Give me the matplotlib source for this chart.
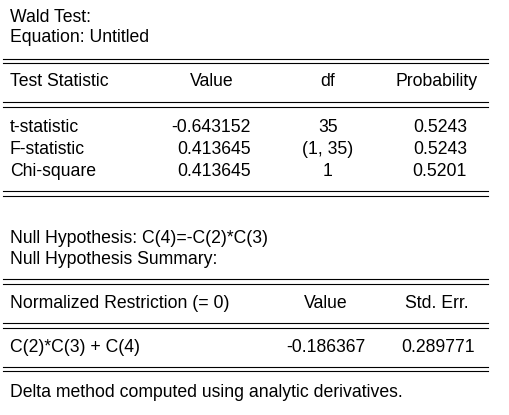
import matplotlib
matplotlib.use("Agg")
import matplotlib.pyplot as plt

# Wald test output values
stat_names = ["t-statistic", "F-statistic", "Chi-square"]
stat_values = ["-0.643152", "0.413645", "0.413645"]
stat_df = ["35", "(1, 35)", "1"]
stat_prob = ["0.5243", "0.5243", "0.5201"]

restr_names = ["C(2)*C(3) + C(4)"]
restr_values = ["-0.186367"]
restr_se = ["0.289771"]

plt.rcParams['font.family'] = ['Liberation Sans', 'DejaVu Sans']
fs = 12.7

fig = plt.figure(figsize=(5.09, 4.15), dpi=100)
ax = fig.add_axes([0, 0, 1, 1])
ax.set_xlim(0, 509)
ax.set_ylim(415, 0)
ax.axis('off')


def double_line(y):
    for yy in (y, y + 4.5):
        ax.plot([3, 488], [yy, yy], color='black', lw=0.8)


def txt(x, y, s, ha='left'):
    ax.text(x, y, s, ha=ha, va='center', fontsize=fs, color='black')


txt(10, 17, "Wald Test:")
txt(10, 38, "Equation: Untitled")

double_line(59)
txt(10, 82, "Test Statistic")
txt(212, 82, "Value", ha='center')
txt(328, 82, "df", ha='center')
txt(437, 82, "Probability", ha='center')
double_line(102.5)

for i in range(len(stat_names)):
    y = 127 + i * 22
    txt(10, y, stat_names[i])
    txt(251, y, stat_values[i], ha='right')
    txt(328, y, stat_df[i], ha='center')
    txt(467, y, stat_prob[i], ha='right')
double_line(191)

txt(10, 238, "Null Hypothesis: C(4)=-C(2)*C(3)")
txt(10, 259, "Null Hypothesis Summary:")

double_line(279)
txt(10, 303, "Normalized Restriction (= 0)")
txt(326, 303, "Value", ha='center')
txt(437, 303, "Std. Err.", ha='center')
double_line(323)

for i in range(len(restr_names)):
    y = 347 + i * 22
    txt(10, y, restr_names[i])
    txt(366, y, restr_values[i], ha='right')
    txt(475, y, restr_se[i], ha='right')
double_line(366.5)

txt(10, 392, "Delta method computed using analytic derivatives.")

fig.savefig("out.png", dpi=100)
